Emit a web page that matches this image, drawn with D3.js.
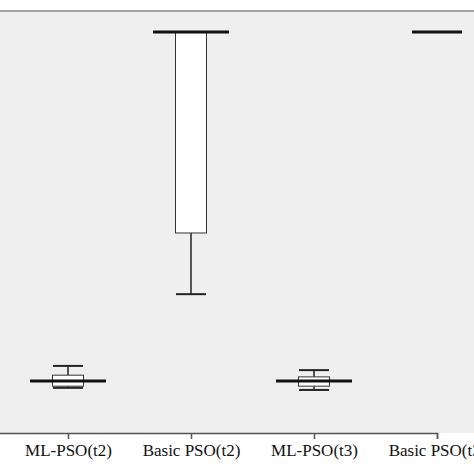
<!DOCTYPE html>
<html><head><meta charset="utf-8">
<script src="https://cdn.jsdelivr.net/npm/d3@7"></script>
<style>body{margin:0;background:#fff}</style>
</head><body>
<svg id="chart" width="474" height="474"></svg>
<script>
// categories (first and last are cropped in the source picture)
const categories = ["Basic PSO(t1)", "ML-PSO(t2)", "Basic PSO(t2)", "ML-PSO(t3)", "Basic PSO(t3)"];
const whiskerLow = [null, 10.7, 32.9, 10.2, 95.0];
const q1 = [null, 11.1, 47.4, 11.1, 95.0];
const median = [null, 12.3, 95.0, 12.3, 95.0];
const q3 = [null, 13.7, 95.0, 13.3, 95.0];
const whiskerHigh = [null, 15.9, 95.0, 14.9, 95.0];

const svg = d3.select('#chart');
const plotTop = 11, plotBottom = 433;

const x = d3.scalePoint().domain(categories).range([-55, 437]);
const y = d3.scaleLinear().domain([0, 100]).range([plotBottom, plotTop]);

svg.append('rect').attr('x', 0).attr('y', plotTop).attr('width', 474).attr('height', plotBottom - plotTop)
    .attr('fill', '#efefef');
svg.append('line').attr('x1', 0).attr('x2', 474).attr('y1', plotTop).attr('y2', plotTop)
    .attr('stroke', '#888').attr('stroke-width', 1.5);

const axis = svg.append('g').attr('transform', `translate(0,${plotBottom})`)
    .call(d3.axisBottom(x).tickSizeOuter(0).tickSize(6).tickPadding(5));
axis.select('.domain').attr('stroke', '#555').attr('stroke-width', 1.5);
axis.selectAll('.tick line').attr('stroke', '#555').attr('stroke-width', 1.5);
axis.selectAll('text').attr('font-family', 'Liberation Serif').attr('font-size', 17)
    .attr('fill', '#111');

categories.forEach((c, i) => {
    if (whiskerLow[i] === null) return;
    const cx = x(c);
    const g = svg.append('g');
    const boxW = 31, capW = 30, medW = (i === 4) ? 50 : 76;
    const degenerate = q1[i] === q3[i];
    if (!degenerate) {
        g.append('line').attr('x1', cx).attr('x2', cx).attr('y1', y(whiskerHigh[i])).attr('y2', y(q3[i]))
            .attr('stroke', '#222').attr('stroke-width', 1.5);
        g.append('line').attr('x1', cx).attr('x2', cx).attr('y1', y(q1[i])).attr('y2', y(whiskerLow[i]))
            .attr('stroke', '#222').attr('stroke-width', 1.5);
        [whiskerHigh[i], whiskerLow[i]].forEach(v => {
            if (v === q3[i]) return;
            g.append('line').attr('x1', cx - capW / 2).attr('x2', cx + capW / 2).attr('y1', y(v)).attr('y2', y(v))
                .attr('stroke', '#222').attr('stroke-width', 2);
        });
        g.append('rect').attr('x', cx - boxW / 2).attr('y', y(q3[i])).attr('width', boxW)
            .attr('height', y(q1[i]) - y(q3[i])).attr('fill', '#fff').attr('stroke', '#333').attr('stroke-width', 1);
    }
    g.append('line').attr('x1', cx - medW / 2).attr('x2', cx + medW / 2).attr('y1', y(median[i])).attr('y2', y(median[i]))
        .attr('stroke', '#111').attr('stroke-width', 3);
});
</script>
</body></html>
